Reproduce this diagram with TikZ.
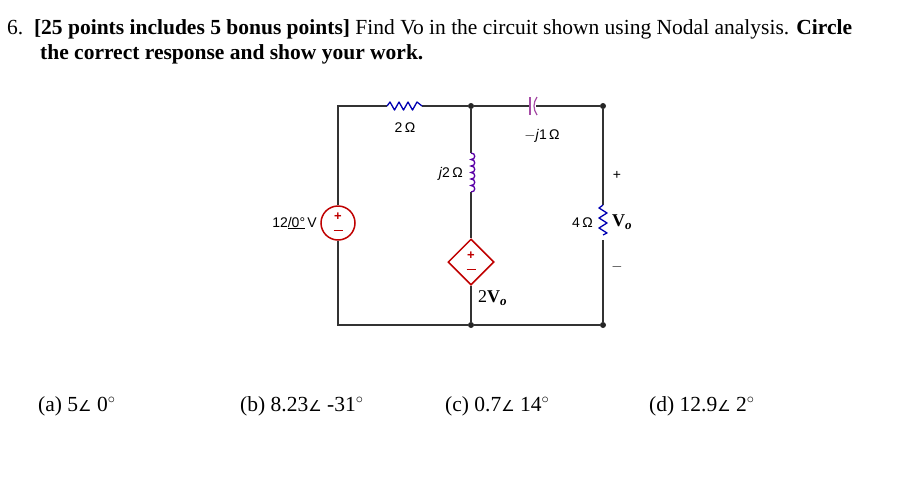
\documentclass[tikz,border=0pt]{standalone}
\usepackage{fontspec}
\setmainfont{Liberation Serif}
\newfontfamily\lab{Liberation Sans}
\newfontfamily\djv{DejaVu Sans}
\usetikzlibrary{shapes.geometric}
\newcommand{\ang}{{\djv\fontsize{15}{16}\selectfont ∠}}
\begin{document}
\begin{tikzpicture}[x=1pt,y=-1pt,
  wire/.style={line width=1.6pt,black!80},
  dot/.style={circle,fill=black!85,inner sep=0pt,minimum size=6pt},
  clab/.style={font=\lab\fontsize{14}{15}\selectfont,inner sep=1pt},
  txt/.style={font=\fontsize{21.5}{23}\selectfont,anchor=base west,inner sep=0pt}]
\useasboundingbox (0,0) rectangle (916,477);
% nodes
\coordinate (tl) at (338,106); \node[dot] (tm) at (471,106) {}; \node[dot] (tr) at (603,106) {};
\coordinate (bl) at (338,325); \node[dot] (bm) at (471,325) {}; \node[dot] (br) at (603,325) {};
\coordinate (r1a) at (387,106); \coordinate (r1b) at (422,106);
\coordinate (ca) at (530,106); \coordinate (cb) at (536,106);
\coordinate (la) at (471,153); \coordinate (lb) at (471,192);
\coordinate (r4a) at (603,205); \coordinate (r4b) at (603,240);
\node[circle,draw=red!75!black,line width=1.5pt,minimum size=34pt,inner sep=0pt] (vs) at (338,223) {};
\node[diamond,draw=red!75!black,line width=1.5pt,minimum size=46pt,inner sep=0pt] (ds) at (471,262) {};
% wires
\draw[wire] (r1a) -- (tl) -- (vs.north);
\draw[wire] (vs.south) -- (bl) -- (bm) -- (br) -- (r4b);
\draw[wire] (r1b) -- (tm) -- (ca);
\draw[wire] (cb) -- (tr) -- (r4a);
\draw[wire] (tm) -- (la); \draw[wire] (lb) -- (ds.north); \draw[wire] (ds.south) -- (bm);
% resistor 2
\draw[line width=1.3pt,blue!70!black,line join=round] (r1a) -- ++(3,-4) -- ++(4.5,8) -- ++(4.5,-8) -- ++(4.5,8) -- ++(4.5,-8) -- ++(4.5,8) -- ++(4.5,-8) -- (r1b);
% resistor 4
\draw[line width=1.3pt,blue!70!black,line join=round] (r4a) -- ++(-4,3) -- ++(8,5) -- ++(-8,5) -- ++(8,5) -- ++(-8,5) -- ++(8,5) -- ++(-4,2);
% capacitor
\draw[line width=1.2pt,violet!70] (530,97) -- (530,115);
\draw[line width=1.2pt,violet!70] (537,97) .. controls (533,103) and (533,109) .. (537,115);
% inductor
\draw[line width=1.3pt,violet!70!blue] (la)
  .. controls (476,153) and (476,159.5) .. (471,159.5)
  .. controls (476,159.5) and (476,166) .. (471,166)
  .. controls (476,166) and (476,172.5) .. (471,172.5)
  .. controls (476,172.5) and (476,179) .. (471,179)
  .. controls (476,179) and (476,185.5) .. (471,185.5)
  .. controls (476,185.5) and (476,192) .. (lb);
% source signs
\node[text=red!75!black,font=\lab\bfseries\fontsize{13}{13}\selectfont,inner sep=0pt] (vsp) at ([yshift=6pt]vs.center) {+};
\draw[red!75!black,line width=1pt] ([xshift=-4.5pt,yshift=-7pt]vs.center) -- ([xshift=4.5pt,yshift=-7pt]vs.center);
\node[text=red!75!black,font=\lab\bfseries\fontsize{13}{13}\selectfont,inner sep=0pt] (dsp) at ([yshift=6pt]ds.center) {+};
\draw[red!75!black,line width=1pt] ([xshift=-4.5pt,yshift=-7pt]ds.center) -- ([xshift=4.5pt,yshift=-7pt]ds.center);
% labels
\node[clab] (l2) at (405,128) {2\,Ω};
\node[clab] (lc) at (542,136) {$-$\textit{j}1\,Ω};
\node[clab,anchor=east] (ll) at (464,174) {\textit{j}2\,Ω};
\node[clab,anchor=east] (lv) at (318,223) {12\underline{/0°}\,V};
\node[clab,anchor=east] (l4) at (594,223) {4\,Ω};
\node[font=\bfseries\fontsize{18}{18}\selectfont,anchor=west,inner sep=0pt] (lvo) at (612,222) {V\raisebox{-3pt}{\fontsize{13}{13}\selectfont\textit{o}}};
\node[clab] (pl) at (617,175) {+};
\node[clab] (mi) at (617,267) {$-$};
\node[font=\fontsize{18}{18}\selectfont,anchor=west,inner sep=0pt] (l2v) at (478,298) {2\textbf{V}\raisebox{-3pt}{\fontsize{13}{13}\selectfont\textit{\textbf{o}}}};
% text
\node[txt] (t1) at (7,34) {6.\ \ \textbf{[25 points includes 5 bonus points]} Find Vo in the circuit shown using Nodal analysis. \textbf{Circle}};
\node[txt] (t2) at (40,59) {\textbf{the correct response and show your work.}};
\node[txt] (a) at (38,411) {(a) 5\ang\ 0$^{\circ}$};
\node[txt] (b) at (240,411) {(b) 8.23\ang\ -31$^{\circ}$};
\node[txt] (c) at (445,411) {(c) 0.7\ang\ 14$^{\circ}$};
\node[txt] (d) at (649,411) {(d) 12.9\ang\ 2$^{\circ}$};
\end{tikzpicture}
\end{document}
